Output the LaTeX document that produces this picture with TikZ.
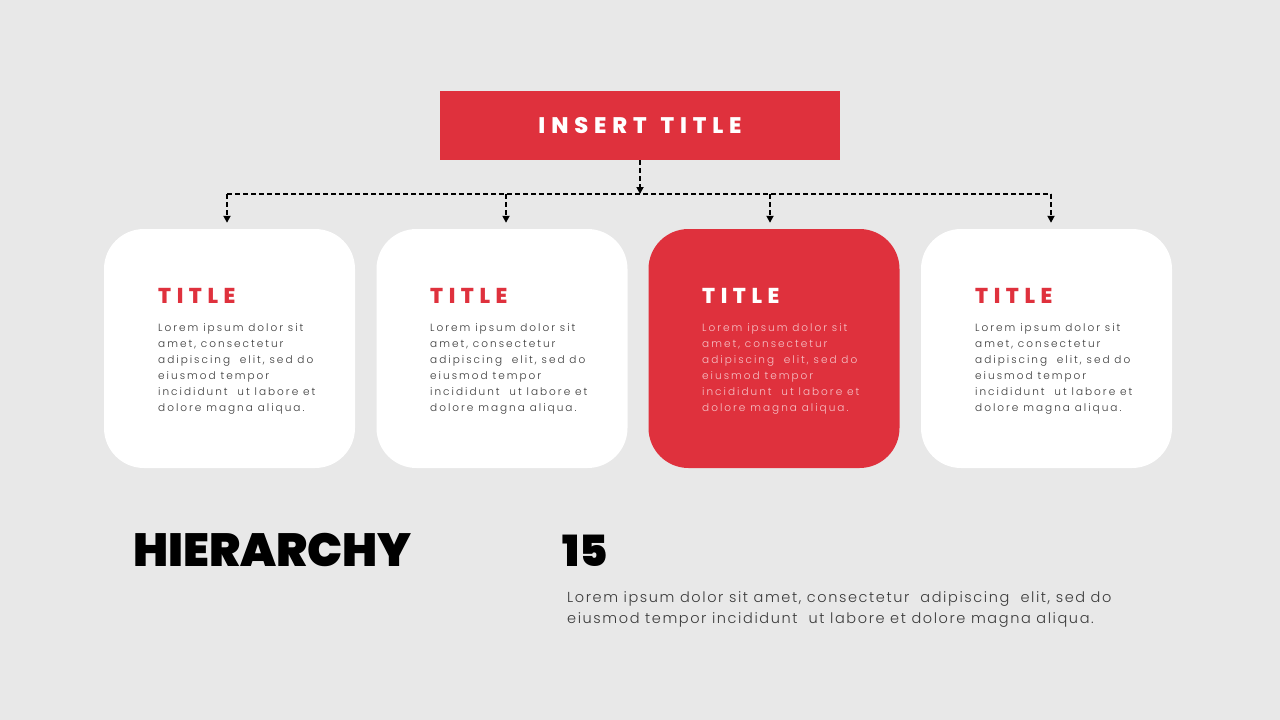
\documentclass[tikz,border=0pt]{standalone}
\usepackage{fontspec}
\usepackage{tikz}
\usetikzlibrary{arrows.meta}
\setmainfont{Poppins}
\newfontfamily\blackfont{Poppins Black}
\newfontfamily\headfont{Poppins ExtraBold}[LetterSpace=26]
\newfontfamily\bodyfont{Poppins Light}[LetterSpace=19]
\newfontfamily\notefont{Poppins Light}[LetterSpace=11]
\definecolor{slidered}{HTML}{DF313D}
\definecolor{slidebg}{HTML}{E8E8E8}
\definecolor{bodygray}{HTML}{3A3A3A}
\definecolor{pinktext}{HTML}{F6C3C8}
\newcommand{\cardbody}{Lorem\ ipsum\ dolor\ sit\\ amet,\ consectetur\\ adipiscing\ \ elit,\ sed\ do\\ eiusmod\ tempor\\ incididunt\ \ ut\ labore\ et\\ dolore\ magna\ aliqua.}

\begin{document}
\begin{tikzpicture}[x=1pt,y=-1pt,
  card/.style={rounded corners=40pt, minimum width=251pt, minimum height=239pt, inner sep=0pt},
  cardtitle/.style={anchor=base west, inner sep=0pt, font=\headfont\fontsize{21.5}{21.5}\selectfont},
  cardtext/.style={anchor=north west, inner sep=0pt, align=left,
    font=\bodyfont\fontsize{10.5}{16}\selectfont},
  dashline/.style={line width=2pt, dash pattern=on 5pt off 3pt},
  tip/.style={-{Triangle[length=7pt,width=7pt]}}]
% background
\fill[slidebg] (0,0) rectangle (1280,720);
\useasboundingbox (0,0) rectangle (1280,720);

% top title box
\node[fill=slidered, minimum width=400pt, minimum height=69pt, inner sep=0pt,
  text=white, font=\headfont\fontsize{22.5}{22.5}\selectfont] (top) at (640,125.5) {INSERT\hspace{14pt}TITLE};

% the four cards
\node[card, fill=white] (c1) at (229.5,348.5) {};
\node[card, fill=white] (c2) at (502,348.5) {};
\node[card, fill=slidered] (c3) at (774,348.5) {};
\node[card, fill=white] (c4) at (1046.5,348.5) {};

% dashed connectors
\coordinate (bus) at (640,194);
\coordinate (b1) at (227,194);
\coordinate (b2) at (506,194);
\coordinate (b3) at (770,194);
\coordinate (b4) at (1051,194);
\draw[dashline, tip] (top.south) -- (bus);
\draw[dashline] (b1) -- (b4);
\foreach \i in {1,...,4}
  \draw[dashline, tip, shorten >=6pt] (b\i) -- (b\i |- c\i.north);

% card texts
\foreach \i/\x in {1/158,2/430,4/975} {
  \node[cardtitle, text=slidered] (t\i) at (\x,303) {TITLE};
  \node[cardtext, text=bodygray] (d\i) at (\x,323.5) {\cardbody};
}
\node[cardtitle, text=white] (t3) at (702,303) {TITLE};
\node[cardtext, text=pinktext] (d3) at (702,323.5) {\cardbody};

% bottom labels
\node[anchor=base west, inner sep=0pt, font=\blackfont\fontsize{46.5}{46.5}\selectfont] (hier) at (133,566) {HIERARCHY};
\node[anchor=base west, inner sep=0pt, font=\blackfont\fontsize{43}{43}\selectfont] (num) at (562,566) {15};
\node[anchor=north west, inner sep=0pt, align=left, text=bodygray,
  font=\notefont\fontsize{14.5}{21}\selectfont] (note) at (567,591.5)
  {Lorem ipsum dolor sit amet, consectetur\ \ adipiscing\ \ elit, sed do\\ eiusmod tempor incididunt\ \ ut labore et dolore magna aliqua.};
\end{tikzpicture}
\end{document}
